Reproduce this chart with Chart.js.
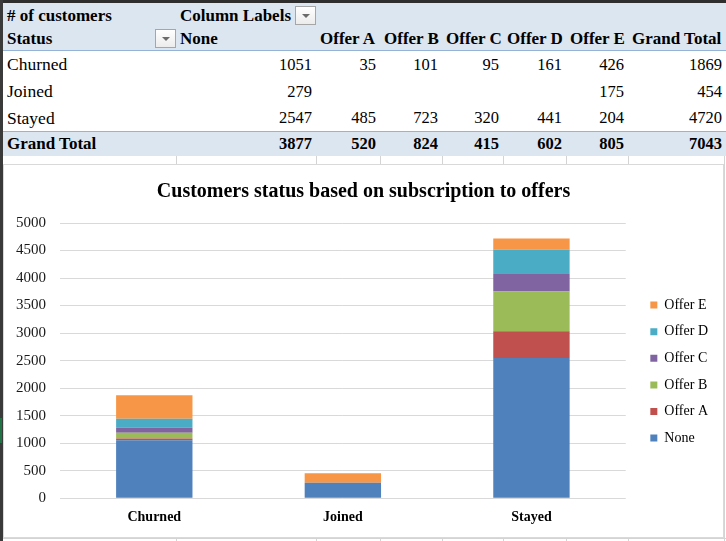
<!DOCTYPE html>
<html>
<head>
<meta charset="utf-8">
<script src="https://cdn.jsdelivr.net/npm/chart.js@4/dist/chart.umd.min.js"></script>
<style>
  html, body { margin: 0; padding: 0; background: #fff; }
  body { width: 726px; height: 541px; overflow: hidden; position: relative; font-family: "Liberation Serif", serif; color: #000; }
  .abs { position: absolute; }
  .cell { position: absolute; white-space: nowrap; box-sizing: border-box; font-size: 16.5px; overflow: visible; }
  .l { text-align: left; padding-left: 4px; }
  .r { text-align: right; padding-right: 4px; }
  .b { font-weight: bold; }
  .hd { font-size: 17px; }
  .lb { font-size: 17.5px; }
  .btn { position: absolute; box-sizing: border-box; width: 21px; height: 19px; border: 1px solid #a6a6a6; background: linear-gradient(#ffffff, #ececec); }
  .btn::after { content: ""; position: absolute; left: 6px; top: 7px; border-left: 4px solid transparent; border-right: 4px solid transparent; border-top: 4px solid #6b6b6b; }
</style>
</head>
<body>
<div class="abs" style="left:0;top:0;width:726px;height:3px;background:#2e2e2e;"></div>
<div class="abs" style="left:0;top:0;width:3px;height:541px;background:#3a3a3a;"></div>
<div class="abs" style="left:0;top:418px;width:2px;height:25px;background:#217346;"></div>
<div id="sheet"></div>
<div class="abs" style="left:3px;top:164px;width:721px;height:374px;box-sizing:border-box;border:1px solid #d9d9d9;background:#fff;">
  <canvas id="c" width="719" height="372" style="display:block;width:719px;height:372px;"></canvas>
</div>
<script>
// ---- data ----
const statuses = ["Churned", "Joined", "Stayed"];
const offers = ["None", "Offer A", "Offer B", "Offer C", "Offer D", "Offer E"];
const noneVals   = [1051, 279, 2547];
const offerAVals = [35, null, 485];
const offerBVals = [101, null, 723];
const offerCVals = [95, null, 320];
const offerDVals = [161, null, 441];
const offerEVals = [426, 175, 204];
const rowTotals = [1869, 454, 4720];
const colTotals = [3877, 520, 824, 415, 602, 805];
const grandTotal = 7043;
const yTicks = [0, 500, 1000, 1500, 2000, 2500, 3000, 3500, 4000, 4500, 5000];
const seriesColors = ["#4f81bd", "#c0504d", "#9bbb59", "#8064a2", "#4bacc6", "#f79646"];
const chartTitle = "Customers status based on subscription to offers";

// ---- pivot table (sheet area) ----
const colLeft = [3, 176, 316, 380, 442, 503, 566, 628];
const colW    = [173, 140, 64, 62, 61, 63, 62, 98];
const sheet = document.getElementById('sheet');
function box(x, y, w, h, bg) {
  const d = document.createElement('div');
  d.className = 'abs';
  d.style.cssText = `left:${x}px;top:${y}px;width:${w}px;height:${h}px;background:${bg};`;
  sheet.appendChild(d);
  return d;
}
function cell(ci, top, h, text, cls) {
  const d = document.createElement('div');
  d.className = 'cell ' + cls;
  d.style.left = colLeft[ci] + 'px';
  d.style.top = top + 'px';
  d.style.width = colW[ci] + 'px';
  d.style.height = h + 'px';
  d.style.lineHeight = h + 'px';
  d.textContent = text;
  sheet.appendChild(d);
}
const blue = '#dce6f1';
box(3, 3, 723, 48, blue);
box(3, 50, 723, 1, '#95b3d7');
box(3, 131, 723, 1, '#95b3d7');
box(3, 132, 723, 24, blue);
// gridlines below table
for (let i = 1; i < colLeft.length; i++) {
  box(colLeft[i], 156, 1, 8, '#d4d4d4');
  box(colLeft[i], 538, 1, 3, '#d4d4d4');
}
box(724, 156, 1, 385, '#d4d4d4');
box(3, 538, 723, 1, '#d4d4d4');

// header row 1
cell(0, 3, 25, "# of customers", 'l b hd');
cell(1, 3, 25, "Column Labels", 'l b hd');
// header row 2
cell(0, 28, 22, "Status", 'l b hd');
const headerLabels = offers.concat(["Grand Total"]);
headerLabels.forEach((t, i) => cell(i + 1, 28, 22, t, 'l b hd'));
// buttons
[[295, 6], [155, 29]].forEach(([x, y]) => {
  const bt = document.createElement('div');
  bt.className = 'btn';
  bt.style.left = x + 'px';
  bt.style.top = y + 'px';
  sheet.appendChild(bt);
});
// body rows
const series = [noneVals, offerAVals, offerBVals, offerCVals, offerDVals, offerEVals];
const rowTops = [51, 78, 105];
const rowHs = [27, 27, 26];
statuses.forEach((s, r) => {
  cell(0, rowTops[r], rowHs[r], s, 'l lb');
  series.forEach((arr, k) => {
    const v = arr[r];
    if (v !== null && v !== undefined) cell(k + 1, rowTops[r], rowHs[r], String(v), 'r');
  });
  cell(7, rowTops[r], rowHs[r], String(rowTotals[r]), 'r');
});
// grand total row
cell(0, 132, 24, "Grand Total", 'l b hd');
colTotals.forEach((v, k) => cell(k + 1, 132, 24, String(v), 'r b'));
cell(7, 132, 24, String(grandTotal), 'r b');

// ---- chart ----
Chart.defaults.font.family = "'Liberation Serif', serif";
Chart.defaults.color = '#000';
const boxShift = {
  id: 'boxShift',
  afterLayout(chart) {
    const lg = chart.legend;
    if (lg) {
      lg.left += 12; lg.right += 12;
      lg.top += 11; lg.bottom += 11;
    }
    const tb = chart.titleBlock;
    if (tb) {
      tb.left += 9.5; tb.right += 9.5;
    }
  }
};
new Chart(document.getElementById('c'), {
  type: 'bar',
  data: {
    labels: statuses,
    datasets: offers.map((name, i) => ({
      label: name,
      data: series[i],
      backgroundColor: seriesColors[i],
      borderWidth: 0,
      categoryPercentage: 1.0,
      barPercentage: 0.405
    }))
  },
  options: {
    responsive: false,
    animation: false,
    layout: { padding: { left: -2, right: 17, top: 0, bottom: 1 } },
    plugins: {
      title: {
        display: true,
        text: chartTitle,
        color: '#000',
        font: { size: 20, weight: 'bold' },
        padding: { top: 15, bottom: 19 }
      },
      legend: {
        position: 'right',
        fullSize: false,
        reverse: true,
        labels: {
          boxWidth: 7,
          boxHeight: 7,
          padding: 12.6,
          color: '#000',
          font: { size: 14 }
        }
      },
      tooltip: { enabled: false }
    },
    scales: {
      x: {
        stacked: true,
        grid: { display: false, drawTicks: false },
        border: { display: false },
        ticks: { color: '#000', font: { size: 14, weight: 'bold' }, padding: 10.5 }
      },
      y: {
        stacked: true,
        min: yTicks[0],
        max: yTicks[yTicks.length - 1],
        afterBuildTicks(scale) { scale.ticks = yTicks.map(v => ({ value: v })); },
        grid: { color: '#d9d9d9', drawTicks: false },
        border: { display: false },
        ticks: { color: '#1a1a1a', font: { size: 15 }, padding: 14, callback: v => String(v) }
      }
    }
  },
  plugins: [boxShift]
});
</script>
</body>
</html>
